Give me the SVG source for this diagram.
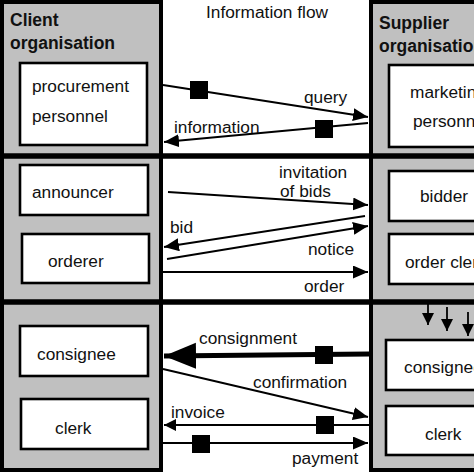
<svg xmlns="http://www.w3.org/2000/svg" width="474" height="474" viewBox="0 0 474 474">
<style>
.panel{fill:#c0c0c0;stroke:#000;stroke-width:4}
.box{fill:#fff;stroke:#000;stroke-width:2.6}
.div{stroke:#000;stroke-width:5.5}
.t{font-family:"Liberation Sans",Arial,Helvetica,sans-serif;font-size:17.3px;fill:#111}
.h{font-family:"Liberation Sans",Arial,Helvetica,sans-serif;font-size:17.5px;font-weight:bold;fill:#111}
.c{stroke:#000;stroke-width:1.8;fill:none}
.sq{fill:#000}
</style>
<defs>
<marker id="ah" markerUnits="userSpaceOnUse" markerWidth="16" markerHeight="14" refX="15" refY="6.5" orient="auto">
<path d="M0,0 L15,6.5 L0,13 z" fill="#000"/>
</marker>
<marker id="ahs" markerUnits="userSpaceOnUse" markerWidth="14" markerHeight="13" refX="12" refY="6" orient="auto">
<path d="M0,0 L12,6 L0,12 z" fill="#000"/>
</marker>
<marker id="ahb" markerUnits="userSpaceOnUse" markerWidth="34" markerHeight="28" refX="32" refY="13" orient="auto">
<path d="M0,0 L32,13 L0,26 z" fill="#000"/>
</marker>
</defs>
<rect width="474" height="474" fill="#fff"/>
<g id="client-org">
<rect class="panel" x="2" y="2" width="159" height="468"/>
<text class="h" x="10" y="26">Client</text>
<text class="h" x="10" y="49">organisation</text>
</g>
<g id="supplier-org">
<rect class="panel" x="371" y="2" width="120" height="468"/>
<text class="h" x="379" y="29">Supplier</text>
<text class="h" x="379" y="52">organisation</text>
</g>
<g id="dividers">
<line class="div" x1="0" y1="156" x2="474" y2="156"/>
<line class="div" x1="0" y1="302" x2="474" y2="302"/>
</g>
<text class="t" x="206" y="18">Information flow</text>
<g id="procurement-personnel">
<rect class="box" x="20" y="63" width="127" height="82"/>
<text class="t" x="32" y="92">procurement</text>
<text class="t" x="32" y="122">personnel</text>
</g>
<g id="announcer">
<rect class="box" x="20" y="165" width="128" height="50"/>
<text class="t" x="32" y="198">announcer</text>
</g>
<g id="orderer">
<rect class="box" x="22" y="234" width="127" height="49"/>
<text class="t" x="48" y="267">orderer</text>
</g>
<g id="consignee-client">
<rect class="box" x="20" y="326" width="128" height="50"/>
<text class="t" x="37" y="360">consignee</text>
</g>
<g id="clerk-client">
<rect class="box" x="21" y="399" width="127" height="50"/>
<text class="t" x="55" y="434">clerk</text>
</g>
<g id="marketing-personnel">
<rect class="box" x="389" y="65" width="100" height="82"/>
<text class="t" x="410" y="98">marketing</text>
<text class="t" x="413" y="127">personnel</text>
</g>
<g id="bidder">
<rect class="box" x="389" y="171" width="100" height="50"/>
<text class="t" x="420" y="202">bidder</text>
</g>
<g id="order-clerk">
<rect class="box" x="389" y="234" width="100" height="50"/>
<text class="t" x="405" y="268">order clerk</text>
</g>
<g id="consignee-supplier">
<rect class="box" x="386" y="340" width="100" height="50"/>
<text class="t" x="404" y="373">consignee</text>
</g>
<g id="clerk-supplier">
<rect class="box" x="386" y="406" width="100" height="49"/>
<text class="t" x="425" y="440">clerk</text>
</g>
<g id="incoming">
<line class="c" x1="428" y1="304" x2="428" y2="325" marker-end="url(#ahs)"/>
<line class="c" x1="447" y1="307" x2="447" y2="331" marker-end="url(#ahs)"/>
<line class="c" x1="468" y1="312" x2="468" y2="336" marker-end="url(#ahs)"/>
</g>
<g id="connectors">
<line class="c" x1="163" y1="85" x2="368" y2="117" marker-end="url(#ah)"/>
<rect class="sq" x="190" y="81" width="18" height="18"/>
<text class="t" x="304" y="103">query</text>
<line class="c" x1="368" y1="123" x2="164" y2="142" marker-end="url(#ah)"/>
<rect class="sq" x="315" y="120" width="18" height="18"/>
<text class="t" x="174" y="133">information</text>
<line class="c" x1="168" y1="192" x2="368" y2="205" marker-end="url(#ah)"/>
<text class="t" x="279" y="178">invitation</text>
<text class="t" x="280" y="197">of bids</text>
<line class="c" x1="365" y1="216" x2="164" y2="247" marker-end="url(#ah)"/>
<text class="t" x="170" y="233">bid</text>
<line class="c" x1="167" y1="259" x2="368" y2="226" marker-end="url(#ah)"/>
<text class="t" x="308" y="255">notice</text>
<line class="c" x1="163" y1="272" x2="368" y2="272" marker-end="url(#ah)"/>
<text class="t" x="304" y="292">order</text>
<line x1="369" y1="354" x2="164" y2="356" stroke="#000" stroke-width="5" marker-end="url(#ahb)"/>
<rect class="sq" x="315" y="346" width="18" height="18"/>
<text class="t" x="199" y="344">consignment</text>
<line class="c" x1="163" y1="369" x2="368" y2="417" marker-end="url(#ah)"/>
<text class="t" x="253" y="388">confirmation</text>
<line class="c" x1="369" y1="425" x2="164" y2="425" marker-end="url(#ahs)"/>
<rect class="sq" x="316" y="416" width="18" height="18"/>
<text class="t" x="171" y="418">invoice</text>
<line class="c" x1="163" y1="443" x2="368" y2="443" marker-end="url(#ah)"/>
<rect class="sq" x="192" y="435" width="18" height="18"/>
<text class="t" x="292" y="464">payment</text>
</g>
</svg>
